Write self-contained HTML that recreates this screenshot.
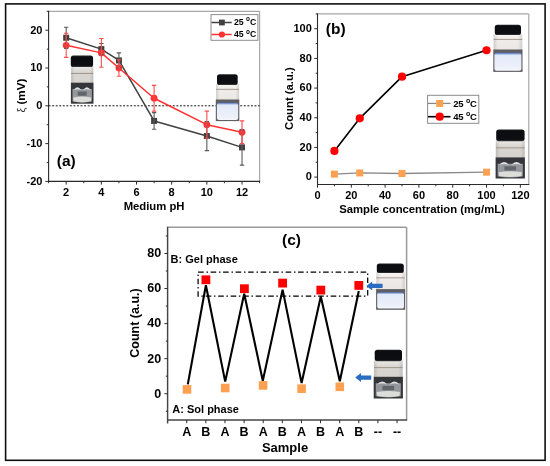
<!DOCTYPE html><html><head><meta charset="utf-8"><title>Figure</title><style>html,body{margin:0;padding:0;background:#fff;width:550px;height:466px;overflow:hidden}svg{display:block}</style></head><body>
<svg width="550" height="466" viewBox="0 0 550 466" font-family="Liberation Sans, Arial, sans-serif" font-weight="bold" fill="#000">
<defs><linearGradient id="cap" x1="0" y1="0" x2="0" y2="1"><stop offset="0" stop-color="#202226"/><stop offset="0.15" stop-color="#0a0c10"/><stop offset="0.85" stop-color="#0c0e12"/><stop offset="1" stop-color="#3a3a3c"/></linearGradient><linearGradient id="glassS" x1="0" y1="0" x2="0" y2="1"><stop offset="0" stop-color="#eeece9"/><stop offset="0.35" stop-color="#d9d6d2"/><stop offset="1" stop-color="#d6d3cf"/></linearGradient><linearGradient id="glassG" x1="0" y1="0" x2="0" y2="1"><stop offset="0" stop-color="#f8f6f4"/><stop offset="0.3" stop-color="#f0ece9"/><stop offset="1" stop-color="#ebe7e4"/></linearGradient><linearGradient id="glassh" x1="0" y1="0" x2="1" y2="0"><stop offset="0" stop-color="#000" stop-opacity="0.12"/><stop offset="0.15" stop-color="#000" stop-opacity="0"/><stop offset="0.85" stop-color="#000" stop-opacity="0"/><stop offset="1" stop-color="#000" stop-opacity="0.12"/></linearGradient><linearGradient id="gelg" x1="0" y1="0" x2="0" y2="1"><stop offset="0" stop-color="#4a70c0"/><stop offset="0.06" stop-color="#8aa6da"/><stop offset="0.13" stop-color="#e2e9f8"/><stop offset="0.85" stop-color="#edf1fa"/><stop offset="1" stop-color="#f6f7fb"/></linearGradient></defs>
<rect width="550" height="466" fill="#fff"/>
<line x1="48.6" y1="11.3" x2="259.6" y2="11.3" stroke="#a8a8a8" stroke-width="1.2"/>
<line x1="259.6" y1="11.3" x2="259.6" y2="181.4" stroke="#a8a8a8" stroke-width="1.2"/>
<line x1="48.6" y1="10.8" x2="48.6" y2="181.9" stroke="#2a2a2a" stroke-width="1.1"/>
<line x1="48.1" y1="181.4" x2="260.1" y2="181.4" stroke="#2a2a2a" stroke-width="1.1"/>
<line x1="45.4" y1="181.4" x2="48.6" y2="181.4" stroke="#2a2a2a" stroke-width="1"/>
<text x="42.4" y="184.81" font-size="11" text-anchor="end">-20</text>
<line x1="45.4" y1="143.6" x2="48.6" y2="143.6" stroke="#2a2a2a" stroke-width="1"/>
<text x="42.4" y="147.01" font-size="11" text-anchor="end">-10</text>
<line x1="45.4" y1="105.8" x2="48.6" y2="105.8" stroke="#2a2a2a" stroke-width="1"/>
<text x="42.4" y="109.21" font-size="11" text-anchor="end">0</text>
<line x1="45.4" y1="68" x2="48.6" y2="68" stroke="#2a2a2a" stroke-width="1"/>
<text x="42.4" y="71.41" font-size="11" text-anchor="end">10</text>
<line x1="45.4" y1="30.2" x2="48.6" y2="30.2" stroke="#2a2a2a" stroke-width="1"/>
<text x="42.4" y="33.61" font-size="11" text-anchor="end">20</text>
<line x1="46.8" y1="162.5" x2="48.6" y2="162.5" stroke="#2a2a2a" stroke-width="1"/>
<line x1="46.8" y1="124.7" x2="48.6" y2="124.7" stroke="#2a2a2a" stroke-width="1"/>
<line x1="46.8" y1="86.9" x2="48.6" y2="86.9" stroke="#2a2a2a" stroke-width="1"/>
<line x1="46.8" y1="49.1" x2="48.6" y2="49.1" stroke="#2a2a2a" stroke-width="1"/>
<line x1="46.8" y1="11.3" x2="48.6" y2="11.3" stroke="#2a2a2a" stroke-width="1"/>
<line x1="66.18" y1="181.4" x2="66.18" y2="184.6" stroke="#2a2a2a" stroke-width="1"/>
<text x="66.18" y="195.6" font-size="11" text-anchor="middle">2</text>
<line x1="101.35" y1="181.4" x2="101.35" y2="184.6" stroke="#2a2a2a" stroke-width="1"/>
<text x="101.35" y="195.6" font-size="11" text-anchor="middle">4</text>
<line x1="136.52" y1="181.4" x2="136.52" y2="184.6" stroke="#2a2a2a" stroke-width="1"/>
<text x="136.52" y="195.6" font-size="11" text-anchor="middle">6</text>
<line x1="171.68" y1="181.4" x2="171.68" y2="184.6" stroke="#2a2a2a" stroke-width="1"/>
<text x="171.68" y="195.6" font-size="11" text-anchor="middle">8</text>
<line x1="206.85" y1="181.4" x2="206.85" y2="184.6" stroke="#2a2a2a" stroke-width="1"/>
<text x="206.85" y="195.6" font-size="11" text-anchor="middle">10</text>
<line x1="242.02" y1="181.4" x2="242.02" y2="184.6" stroke="#2a2a2a" stroke-width="1"/>
<text x="242.02" y="195.6" font-size="11" text-anchor="middle">12</text>
<line x1="48.6" y1="181.4" x2="48.6" y2="183.2" stroke="#2a2a2a" stroke-width="1"/>
<line x1="83.77" y1="181.4" x2="83.77" y2="183.2" stroke="#2a2a2a" stroke-width="1"/>
<line x1="118.93" y1="181.4" x2="118.93" y2="183.2" stroke="#2a2a2a" stroke-width="1"/>
<line x1="154.1" y1="181.4" x2="154.1" y2="183.2" stroke="#2a2a2a" stroke-width="1"/>
<line x1="189.27" y1="181.4" x2="189.27" y2="183.2" stroke="#2a2a2a" stroke-width="1"/>
<line x1="224.43" y1="181.4" x2="224.43" y2="183.2" stroke="#2a2a2a" stroke-width="1"/>
<line x1="259.6" y1="181.4" x2="259.6" y2="183.2" stroke="#2a2a2a" stroke-width="1"/>
<text x="154.1" y="210" font-size="11.3" text-anchor="middle">Medium pH</text>
<text transform="translate(24.5 91.6) rotate(-90)" font-size="11.7" text-anchor="middle">(mV)</text>
<text transform="translate(25 110.1) rotate(-90)" font-size="11" font-weight="normal" fill="#333" text-anchor="middle">ξ</text>
<line x1="48.6" y1="105.8" x2="259.6" y2="105.8" stroke="#111" stroke-width="1" stroke-dasharray="1.9 1.65"/>
<g><rect x="71.1" y="66" width="22.2" height="17.2" fill="url(#glassS)"/><rect x="71.1" y="66" width="22.2" height="17.2" fill="url(#glassh)"/><rect x="71.2" y="72.94" width="22" height="1" fill="#8a7a70" opacity="0.7"/><rect x="70.8" y="55.6" width="22.3" height="11.4" rx="2.6" fill="url(#cap)"/><rect x="70.9" y="82.7" width="22.6" height="21" fill="#34363a"/><path d="M72.48 89 H91.92 V101.6 Q82.2 103.7 72.48 101.6 Z" fill="#94989d"/><path d="M73.61 90.26 Q77.45 84.38 81.3 90.26 Q77.45 88.16 73.61 90.26 Z" fill="#e2e2e2"/><path d="M83.1 90.26 Q86.95 84.38 90.79 90.26 Q86.95 88.16 83.1 90.26 Z" fill="#e2e2e2"/><rect x="77.68" y="91.52" width="9.04" height="4.2" fill="#62656a"/><path d="M73.16 97.4 Q82.2 95.72 91.24 97.4 L90.79 101.18 Q82.2 103.07 73.61 101.18 Z" fill="#dcdcd8"/></g>
<g><rect x="216" y="84" width="23.1" height="16" fill="url(#glassG)"/><rect x="216" y="84" width="23.1" height="16" fill="url(#glassh)"/><rect x="216.1" y="88.85" width="22.9" height="1" fill="#8a7a70" opacity="0.7"/><rect x="217" y="74.2" width="20.7" height="10.8" rx="2.6" fill="url(#cap)"/><rect x="215.8" y="99.5" width="23.5" height="21.6" fill="#5e5e63"/><rect x="216.9" y="102.74" width="21.3" height="17.16" rx="2.2" fill="url(#gelg)"/></g>
<polyline points="66.18,37.76 101.35,49.1 118.93,60.44 154.1,120.92 206.85,136.04 242.02,147.38" fill="none" stroke="#404040" stroke-width="1.5" stroke-linejoin="round"/>
<rect x="63.18" y="34.76" width="6" height="6" fill="#404040"/>
<rect x="98.35" y="46.1" width="6" height="6" fill="#404040"/>
<rect x="115.93" y="57.44" width="6" height="6" fill="#404040"/>
<rect x="151.1" y="117.92" width="6" height="6" fill="#404040"/>
<rect x="203.85" y="133.04" width="6" height="6" fill="#404040"/>
<rect x="239.02" y="144.38" width="6" height="6" fill="#404040"/>
<polyline points="66.18,45.32 101.35,52.88 118.93,68 154.1,98.24 206.85,124.7 242.02,132.26" fill="none" stroke="#ff3030" stroke-width="1.5" stroke-linejoin="round"/>
<circle cx="66.18" cy="45.32" r="3.4" fill="#ff3333"/>
<circle cx="101.35" cy="52.88" r="3.4" fill="#ff3333"/>
<circle cx="118.93" cy="68" r="3.4" fill="#ff3333"/>
<circle cx="154.1" cy="98.24" r="3.4" fill="#ff3333"/>
<circle cx="206.85" cy="124.7" r="3.4" fill="#ff3333"/>
<circle cx="242.02" cy="132.26" r="3.4" fill="#ff3333"/>
<path d="M66.18 27.18 V48.34 M63.98 27.18 H68.38 M63.98 48.34 H68.38" stroke="#5a5a5a" stroke-width="1.1" fill="none"/>
<path d="M101.35 43.43 V54.77 M99.15 43.43 H103.55 M99.15 54.77 H103.55" stroke="#5a5a5a" stroke-width="1.1" fill="none"/>
<path d="M118.93 52.88 V68 M116.73 52.88 H121.13 M116.73 68 H121.13" stroke="#5a5a5a" stroke-width="1.1" fill="none"/>
<path d="M154.1 112.6 V129.24 M151.9 112.6 H156.3 M151.9 129.24 H156.3" stroke="#5a5a5a" stroke-width="1.1" fill="none"/>
<path d="M206.85 121.49 V150.59 M204.65 121.49 H209.05 M204.65 150.59 H209.05" stroke="#5a5a5a" stroke-width="1.1" fill="none"/>
<path d="M242.02 129.61 V165.15 M239.82 129.61 H244.22 M239.82 165.15 H244.22" stroke="#5a5a5a" stroke-width="1.1" fill="none"/>
<path d="M66.18 33.22 V57.42 M63.98 33.22 H68.38 M63.98 57.42 H68.38" stroke="#ff4c4c" stroke-width="1.1" fill="none"/>
<path d="M101.35 38.52 V67.24 M99.15 38.52 H103.55 M99.15 67.24 H103.55" stroke="#ff4c4c" stroke-width="1.1" fill="none"/>
<path d="M118.93 59.68 V76.32 M116.73 59.68 H121.13 M116.73 76.32 H121.13" stroke="#ff4c4c" stroke-width="1.1" fill="none"/>
<path d="M154.1 85.39 V111.09 M151.9 85.39 H156.3 M151.9 111.09 H156.3" stroke="#ff4c4c" stroke-width="1.1" fill="none"/>
<path d="M206.85 111.09 V138.31 M204.65 111.09 H209.05 M204.65 138.31 H209.05" stroke="#ff4c4c" stroke-width="1.1" fill="none"/>
<path d="M242.02 120.92 V143.6 M239.82 120.92 H244.22 M239.82 143.6 H244.22" stroke="#ff4c4c" stroke-width="1.1" fill="none"/>
<rect x="211" y="14.6" width="46.9" height="25.7" fill="#fff" stroke="#8c8c8c" stroke-width="1"/>
<line x1="211.5" y1="22.5" x2="231.7" y2="22.5" stroke="#404040" stroke-width="1.5"/>
<rect x="219" y="19.6" width="5.8" height="5.8" fill="#404040"/>
<line x1="211.5" y1="34.5" x2="231.7" y2="34.5" stroke="#ff3030" stroke-width="1.5"/>
<circle cx="221.9" cy="34.5" r="3.1" fill="#ff3333"/>
<text x="234" y="24.7" font-size="8.7">25 <tspan font-size="6.4" dy="-3.4">o</tspan><tspan dy="3.4">C</tspan></text>
<text x="234" y="36.9" font-size="8.7">45 <tspan font-size="6.4" dy="-3.4">o</tspan><tspan dy="3.4">C</tspan></text>
<text x="56.8" y="166.2" font-size="15.5">(a)</text>
<line x1="317.5" y1="13.9" x2="528.8" y2="13.9" stroke="#a8a8a8" stroke-width="1.2"/>
<line x1="528.8" y1="13.9" x2="528.8" y2="184.5" stroke="#a8a8a8" stroke-width="1.2"/>
<line x1="317.5" y1="13.4" x2="317.5" y2="185" stroke="#2a2a2a" stroke-width="1.1"/>
<line x1="317" y1="184.5" x2="529.3" y2="184.5" stroke="#2a2a2a" stroke-width="1.1"/>
<line x1="314.3" y1="177.08" x2="317.5" y2="177.08" stroke="#2a2a2a" stroke-width="1"/>
<text x="311.8" y="180.49" font-size="11" text-anchor="end">0</text>
<line x1="314.3" y1="147.41" x2="317.5" y2="147.41" stroke="#2a2a2a" stroke-width="1"/>
<text x="311.8" y="150.82" font-size="11" text-anchor="end">20</text>
<line x1="314.3" y1="117.74" x2="317.5" y2="117.74" stroke="#2a2a2a" stroke-width="1"/>
<text x="311.8" y="121.15" font-size="11" text-anchor="end">40</text>
<line x1="314.3" y1="88.07" x2="317.5" y2="88.07" stroke="#2a2a2a" stroke-width="1"/>
<text x="311.8" y="91.48" font-size="11" text-anchor="end">60</text>
<line x1="314.3" y1="58.4" x2="317.5" y2="58.4" stroke="#2a2a2a" stroke-width="1"/>
<text x="311.8" y="61.81" font-size="11" text-anchor="end">80</text>
<line x1="314.3" y1="28.73" x2="317.5" y2="28.73" stroke="#2a2a2a" stroke-width="1"/>
<text x="311.8" y="32.14" font-size="11" text-anchor="end">100</text>
<line x1="315.7" y1="162.25" x2="317.5" y2="162.25" stroke="#2a2a2a" stroke-width="1"/>
<line x1="315.7" y1="132.58" x2="317.5" y2="132.58" stroke="#2a2a2a" stroke-width="1"/>
<line x1="315.7" y1="102.91" x2="317.5" y2="102.91" stroke="#2a2a2a" stroke-width="1"/>
<line x1="315.7" y1="73.24" x2="317.5" y2="73.24" stroke="#2a2a2a" stroke-width="1"/>
<line x1="315.7" y1="43.57" x2="317.5" y2="43.57" stroke="#2a2a2a" stroke-width="1"/>
<line x1="315.7" y1="13.9" x2="317.5" y2="13.9" stroke="#2a2a2a" stroke-width="1"/>
<line x1="317.5" y1="184.5" x2="317.5" y2="187.7" stroke="#2a2a2a" stroke-width="1"/>
<text x="317.5" y="198.6" font-size="11" text-anchor="middle">0</text>
<line x1="351.31" y1="184.5" x2="351.31" y2="187.7" stroke="#2a2a2a" stroke-width="1"/>
<text x="351.31" y="198.6" font-size="11" text-anchor="middle">20</text>
<line x1="385.12" y1="184.5" x2="385.12" y2="187.7" stroke="#2a2a2a" stroke-width="1"/>
<text x="385.12" y="198.6" font-size="11" text-anchor="middle">40</text>
<line x1="418.92" y1="184.5" x2="418.92" y2="187.7" stroke="#2a2a2a" stroke-width="1"/>
<text x="418.92" y="198.6" font-size="11" text-anchor="middle">60</text>
<line x1="452.73" y1="184.5" x2="452.73" y2="187.7" stroke="#2a2a2a" stroke-width="1"/>
<text x="452.73" y="198.6" font-size="11" text-anchor="middle">80</text>
<line x1="486.54" y1="184.5" x2="486.54" y2="187.7" stroke="#2a2a2a" stroke-width="1"/>
<text x="486.54" y="198.6" font-size="11" text-anchor="middle">100</text>
<line x1="520.35" y1="184.5" x2="520.35" y2="187.7" stroke="#2a2a2a" stroke-width="1"/>
<text x="520.35" y="198.6" font-size="11" text-anchor="middle">120</text>
<line x1="334.4" y1="184.5" x2="334.4" y2="186.3" stroke="#2a2a2a" stroke-width="1"/>
<line x1="368.21" y1="184.5" x2="368.21" y2="186.3" stroke="#2a2a2a" stroke-width="1"/>
<line x1="402.02" y1="184.5" x2="402.02" y2="186.3" stroke="#2a2a2a" stroke-width="1"/>
<line x1="435.83" y1="184.5" x2="435.83" y2="186.3" stroke="#2a2a2a" stroke-width="1"/>
<line x1="469.64" y1="184.5" x2="469.64" y2="186.3" stroke="#2a2a2a" stroke-width="1"/>
<line x1="503.44" y1="184.5" x2="503.44" y2="186.3" stroke="#2a2a2a" stroke-width="1"/>
<text x="422" y="212.6" font-size="11.3" text-anchor="middle">Sample concentration (mg/mL)</text>
<text transform="translate(292.9 98.6) rotate(-90)" font-size="11.3" text-anchor="middle">Count (a.u.)</text>
<g><rect x="493.5" y="34.1" width="28.8" height="15.9" fill="url(#glassG)"/><rect x="493.5" y="34.1" width="28.8" height="15.9" fill="url(#glassh)"/><rect x="493.6" y="38.92" width="28.6" height="1" fill="#8a7a70" opacity="0.7"/><rect x="494.8" y="24.7" width="26.2" height="10.4" rx="2.6" fill="url(#cap)"/><rect x="493.3" y="49.5" width="29.2" height="22.4" fill="#5e5e63"/><rect x="494.4" y="52.86" width="27" height="17.84" rx="2.2" fill="url(#gelg)"/></g>
<g><rect x="495.8" y="140.2" width="28.9" height="17.7" fill="url(#glassS)"/><rect x="495.8" y="140.2" width="28.9" height="17.7" fill="url(#glassh)"/><rect x="495.9" y="147.34" width="28.7" height="1" fill="#8a7a70" opacity="0.7"/><rect x="496.2" y="129.4" width="28.4" height="11.8" rx="2.6" fill="url(#cap)"/><rect x="495.6" y="157.4" width="29.3" height="21.1" fill="#34363a"/><path d="M497.65 163.73 H522.85 V176.39 Q510.25 178.5 497.65 176.39 Z" fill="#94989d"/><path d="M499.12 165 Q504.1 159.09 509.08 165 Q504.1 162.89 499.12 165 Z" fill="#e2e2e2"/><path d="M511.42 165 Q516.4 159.09 521.38 165 Q516.4 162.89 511.42 165 Z" fill="#e2e2e2"/><rect x="504.39" y="166.26" width="11.72" height="4.22" fill="#62656a"/><path d="M498.53 172.17 Q510.25 170.48 521.97 172.17 L521.38 175.97 Q510.25 177.87 499.12 175.97 Z" fill="#dcdcd8"/></g>
<polyline points="334.4,174.12 359.76,172.93 402.02,173.52 486.54,172.19" fill="none" stroke="#8a8a8a" stroke-width="1.3" stroke-linejoin="round"/>
<rect x="330.9" y="170.62" width="7" height="7" fill="#fca052"/>
<rect x="356.26" y="169.43" width="7" height="7" fill="#fca052"/>
<rect x="398.52" y="170.02" width="7" height="7" fill="#fca052"/>
<rect x="483.04" y="168.69" width="7" height="7" fill="#fca052"/>
<polyline points="334.4,150.97 359.76,118.34 402.02,76.65 486.54,50.25" fill="none" stroke="#000" stroke-width="1.6" stroke-linejoin="round"/>
<circle cx="334.4" cy="150.97" r="4.1" fill="#ff0000"/>
<circle cx="359.76" cy="118.34" r="4.1" fill="#ff0000"/>
<circle cx="402.02" cy="76.65" r="4.1" fill="#ff0000"/>
<circle cx="486.54" cy="50.25" r="4.1" fill="#ff0000"/>
<rect x="427.6" y="95.3" width="51.2" height="28" fill="#fff" stroke="#8c8c8c" stroke-width="1"/>
<line x1="428" y1="103.4" x2="450.5" y2="103.4" stroke="#8a8a8a" stroke-width="1.3"/>
<rect x="436.2" y="99.9" width="7" height="7" fill="#fca052"/>
<line x1="428" y1="116.7" x2="450.5" y2="116.7" stroke="#000" stroke-width="1.6"/>
<circle cx="439.7" cy="116.7" r="4.1" fill="#ff0000"/>
<text x="453.2" y="106.5" font-size="9.5" letter-spacing="-0.15">25 <tspan font-size="7" dy="-3.7">o</tspan><tspan dy="3.7">C</tspan></text>
<text x="453.2" y="119.9" font-size="9.5" letter-spacing="-0.15">45 <tspan font-size="7" dy="-3.7">o</tspan><tspan dy="3.7">C</tspan></text>
<text x="325.8" y="34" font-size="15.5">(b)</text>
<line x1="167.6" y1="227.2" x2="406.6" y2="227.2" stroke="#9a9a9a" stroke-width="1.5"/>
<line x1="406.6" y1="227.2" x2="406.6" y2="420" stroke="#9a9a9a" stroke-width="1.5"/>
<line x1="167.6" y1="226.7" x2="167.6" y2="423.5" stroke="#454545" stroke-width="1.45"/>
<line x1="167.1" y1="420" x2="407.1" y2="420" stroke="#454545" stroke-width="1.45"/>
<line x1="164.4" y1="393.71" x2="167.6" y2="393.71" stroke="#2a2a2a" stroke-width="1"/>
<text x="161.2" y="397.58" font-size="12.5" text-anchor="end">0</text>
<line x1="164.4" y1="358.65" x2="167.6" y2="358.65" stroke="#2a2a2a" stroke-width="1"/>
<text x="161.2" y="362.53" font-size="12.5" text-anchor="end">20</text>
<line x1="164.4" y1="323.6" x2="167.6" y2="323.6" stroke="#2a2a2a" stroke-width="1"/>
<text x="161.2" y="327.48" font-size="12.5" text-anchor="end">40</text>
<line x1="164.4" y1="288.55" x2="167.6" y2="288.55" stroke="#2a2a2a" stroke-width="1"/>
<text x="161.2" y="292.42" font-size="12.5" text-anchor="end">60</text>
<line x1="164.4" y1="253.49" x2="167.6" y2="253.49" stroke="#2a2a2a" stroke-width="1"/>
<text x="161.2" y="257.37" font-size="12.5" text-anchor="end">80</text>
<line x1="165.8" y1="411.24" x2="167.6" y2="411.24" stroke="#2a2a2a" stroke-width="1"/>
<line x1="165.8" y1="376.18" x2="167.6" y2="376.18" stroke="#2a2a2a" stroke-width="1"/>
<line x1="165.8" y1="341.13" x2="167.6" y2="341.13" stroke="#2a2a2a" stroke-width="1"/>
<line x1="165.8" y1="306.07" x2="167.6" y2="306.07" stroke="#2a2a2a" stroke-width="1"/>
<line x1="165.8" y1="271.02" x2="167.6" y2="271.02" stroke="#2a2a2a" stroke-width="1"/>
<line x1="165.8" y1="235.96" x2="167.6" y2="235.96" stroke="#2a2a2a" stroke-width="1"/>
<line x1="186.72" y1="420" x2="186.72" y2="423.2" stroke="#2a2a2a" stroke-width="1"/>
<text x="186.72" y="436" font-size="12.5" text-anchor="middle">A</text>
<line x1="205.84" y1="420" x2="205.84" y2="423.2" stroke="#2a2a2a" stroke-width="1"/>
<text x="205.84" y="436" font-size="12.5" text-anchor="middle">B</text>
<line x1="224.96" y1="420" x2="224.96" y2="423.2" stroke="#2a2a2a" stroke-width="1"/>
<text x="224.96" y="436" font-size="12.5" text-anchor="middle">A</text>
<line x1="244.08" y1="420" x2="244.08" y2="423.2" stroke="#2a2a2a" stroke-width="1"/>
<text x="244.08" y="436" font-size="12.5" text-anchor="middle">B</text>
<line x1="263.2" y1="420" x2="263.2" y2="423.2" stroke="#2a2a2a" stroke-width="1"/>
<text x="263.2" y="436" font-size="12.5" text-anchor="middle">A</text>
<line x1="282.32" y1="420" x2="282.32" y2="423.2" stroke="#2a2a2a" stroke-width="1"/>
<text x="282.32" y="436" font-size="12.5" text-anchor="middle">B</text>
<line x1="301.44" y1="420" x2="301.44" y2="423.2" stroke="#2a2a2a" stroke-width="1"/>
<text x="301.44" y="436" font-size="12.5" text-anchor="middle">A</text>
<line x1="320.56" y1="420" x2="320.56" y2="423.2" stroke="#2a2a2a" stroke-width="1"/>
<text x="320.56" y="436" font-size="12.5" text-anchor="middle">B</text>
<line x1="339.68" y1="420" x2="339.68" y2="423.2" stroke="#2a2a2a" stroke-width="1"/>
<text x="339.68" y="436" font-size="12.5" text-anchor="middle">A</text>
<line x1="358.8" y1="420" x2="358.8" y2="423.2" stroke="#2a2a2a" stroke-width="1"/>
<text x="358.8" y="436" font-size="12.5" text-anchor="middle">B</text>
<line x1="377.92" y1="420" x2="377.92" y2="423.2" stroke="#2a2a2a" stroke-width="1"/>
<text x="377.92" y="436" font-size="12.5" text-anchor="middle">--</text>
<line x1="397.04" y1="420" x2="397.04" y2="423.2" stroke="#2a2a2a" stroke-width="1"/>
<text x="397.04" y="436" font-size="12.5" text-anchor="middle">--</text>
<text x="285" y="452.4" font-size="13" text-anchor="middle">Sample</text>
<text transform="translate(139 323) rotate(-90)" font-size="12.5" text-anchor="middle">Count (a.u.)</text>
<text x="282" y="245.1" font-size="15.5">(c)</text>
<text x="170.6" y="263.4" font-size="11">B: Gel phase</text>
<text x="172.3" y="413.2" font-size="11">A: Sol phase</text>
<rect x="198.1" y="272.1" width="169.6" height="24" fill="none" stroke="#000" stroke-width="1.25" stroke-dasharray="5.6 2.8 1.5 2.6"/>
<polyline points="187.8,384.4 205.9,285.3 225.2,381.6 244.2,293.7 262.8,380.7 282.6,289.6 301.6,383.1 320.8,296.5 339.8,381.2 358.8,291" fill="none" stroke="#000" stroke-width="2.1" stroke-linejoin="miter" stroke-miterlimit="3"/>
<rect x="201.5" y="275.4" width="8.8" height="8.8" fill="#ff0000"/>
<rect x="240" y="284.3" width="8.8" height="8.8" fill="#ff0000"/>
<rect x="278.2" y="278.7" width="8.8" height="8.8" fill="#ff0000"/>
<rect x="316.4" y="285.7" width="8.8" height="8.8" fill="#ff0000"/>
<rect x="354.4" y="281" width="8.8" height="8.8" fill="#ff0000"/>
<rect x="182.7" y="385.1" width="8.6" height="8.6" fill="#fca052"/>
<rect x="220.9" y="383.7" width="8.6" height="8.6" fill="#fca052"/>
<rect x="258.8" y="381.1" width="8.6" height="8.6" fill="#fca052"/>
<rect x="297.3" y="384.4" width="8.6" height="8.6" fill="#fca052"/>
<rect x="335.5" y="382.5" width="8.6" height="8.6" fill="#fca052"/>
<g><rect x="376.3" y="272" width="28.6" height="17.6" fill="url(#glassG)"/><rect x="376.3" y="272" width="28.6" height="17.6" fill="url(#glassh)"/><rect x="376.4" y="277.33" width="28.4" height="1" fill="#8a7a70" opacity="0.7"/><rect x="376.8" y="263.4" width="27" height="9.6" rx="2.6" fill="url(#cap)"/><rect x="376.1" y="289.1" width="29" height="20.7" fill="#5e5e63"/><rect x="377.2" y="292.21" width="26.8" height="16.39" rx="2.2" fill="url(#gelg)"/></g>
<g><rect x="373.9" y="360.2" width="28.8" height="17.1" fill="url(#glassS)"/><rect x="373.9" y="360.2" width="28.8" height="17.1" fill="url(#glassh)"/><rect x="374" y="367.1" width="28.6" height="1" fill="#8a7a70" opacity="0.7"/><rect x="374.7" y="349.7" width="27.3" height="11.5" rx="2.6" fill="url(#cap)"/><rect x="373.7" y="376.8" width="29.2" height="21.7" fill="#34363a"/><path d="M375.74 383.31 H400.86 V396.33 Q388.3 398.5 375.74 396.33 Z" fill="#94989d"/><path d="M377.2 384.61 Q382.17 378.54 387.13 384.61 Q382.17 382.44 377.2 384.61 Z" fill="#e2e2e2"/><path d="M389.47 384.61 Q394.43 378.54 399.4 384.61 Q394.43 382.44 389.47 384.61 Z" fill="#e2e2e2"/><rect x="382.46" y="385.91" width="11.68" height="4.34" fill="#62656a"/><path d="M376.62 391.99 Q388.3 390.25 399.98 391.99 L399.4 395.9 Q388.3 397.85 377.2 395.9 Z" fill="#dcdcd8"/></g>
<path d="M366.4 285.9 L372.2 281.4 L372.2 283.8 L382.6 283.8 L382.6 288 L372.2 288 L372.2 290.4 Z" fill="#2a6cc2"/>
<path d="M355.2 377.6 L361 373.1 L361 375.5 L371.2 375.5 L371.2 379.7 L361 379.7 L361 382.1 Z" fill="#2a6cc2"/>
<rect x="5.6" y="3.9" width="539.5" height="456.4" fill="none" stroke="#111" stroke-width="1.6"/>
</svg></body></html>
